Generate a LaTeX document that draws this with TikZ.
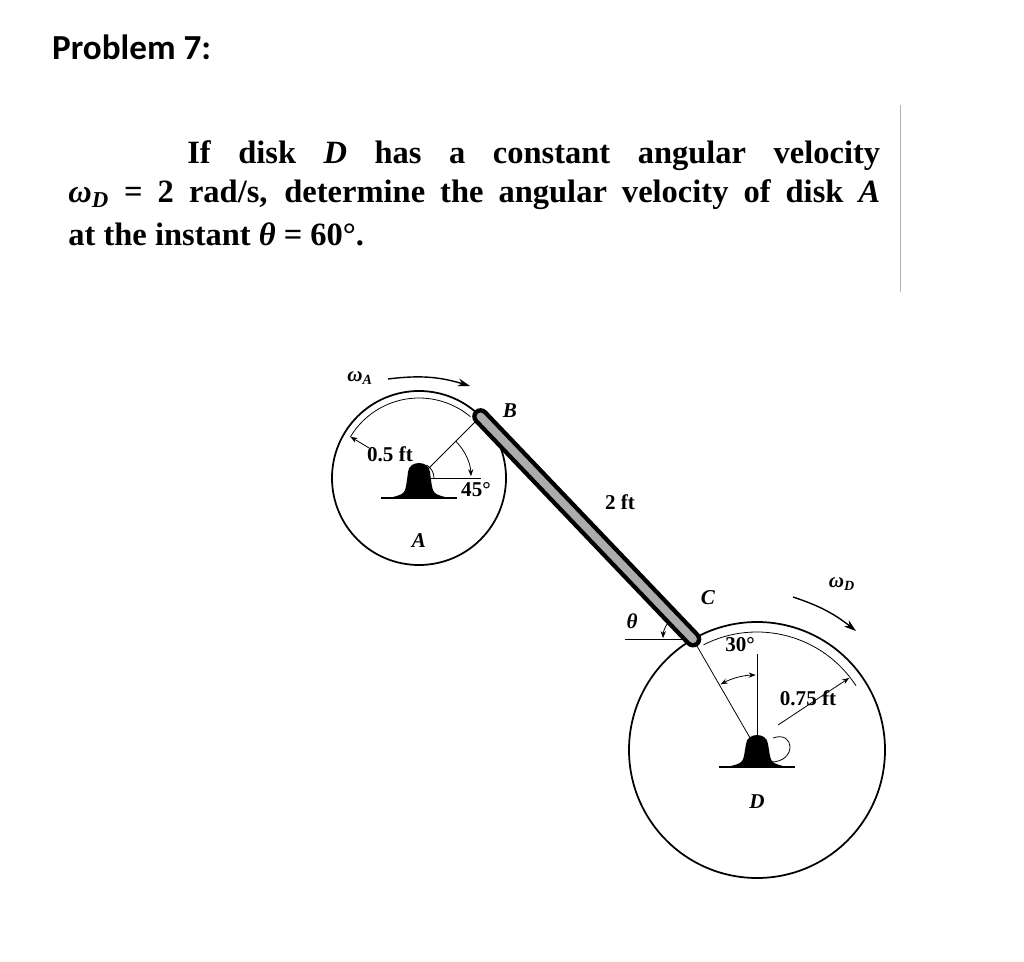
\documentclass[tikz,border=0pt]{standalone}
\usepackage{fontspec}
\setmainfont{Liberation Serif}
\newfontfamily\titlefont{Carlito}
\usetikzlibrary{arrows.meta,calc}
\begin{document}
\begin{tikzpicture}[x=0.02cm,y=0.02cm,
  lbl/.style={font=\fontsize{12}{14}\selectfont\bfseries, inner sep=1pt},
  thinl/.style={line width=0.45pt},
  disk/.style={line width=1pt},
  arr/.style={-{Stealth[length=7pt,width=4.5pt]}, line width=0.8pt},
  sarr/.style={-{Stealth[length=4pt,width=3pt]}, line width=0.45pt},
  body/.style={anchor=west, inner sep=0, font=\fontsize{18.5}{22}\selectfont\bfseries}]
\useasboundingbox (0,0) rectangle (1024,961);
\node[anchor=west, font=\titlefont\fontsize{20}{24}\selectfont\bfseries] (title) at (46,914) {Problem 7:};
\node[body] (l1) at (187,805) {\makebox[13.86cm][s]{If disk \textit{D} has a constant angular velocity}};
\node[body] (l2) at (68,766) {\makebox[16.24cm][s]{\textit{ω\textsubscript{D}} = 2 rad/s, determine the angular velocity of disk \textit{A}}};
\node[body] (l3) at (68,727) {at the instant \textit{θ} = 60°.};
\coordinate (r1) at (900,856); \coordinate (r2) at (900,669);
\draw[line width=0.3pt, gray!60] (r1) -- (r2);
% ---------- disk A
\coordinate (A) at (419,483);
\coordinate (B) at ($(A)+(45:87)$);
\draw[disk] (A) circle[radius=87];
\draw[thinl] (A) -- (B);
\coordinate (Ah) at ($(A)+(62,0)$);
\draw[thinl] (A) -- (Ah);
\draw[thinl] ($(A)+(149:80)$) arc[start angle=149, end angle=50, radius=80];
\draw[sarr] ($(A)+(149:58)$) -- ($(A)+(149:80)$);
\draw[sarr] ($(A)+(45:52)$) arc[start angle=45, end angle=2, radius=52];
% pedestal A
\fill ($(A)+(-30,-20)$) .. controls ($(A)+(-14,-16)$) .. ($(A)+(-12,-2)$) -- ($(A)+(-11,6)$)
   .. controls ($(A)+(-10,18)$) and ($(A)+(10,18)$) .. ($(A)+(11,6)$) -- ($(A)+(12,-2)$)
   .. controls ($(A)+(14,-16)$) .. ($(A)+(30,-20)$) -- cycle;
\draw[line width=0.8pt] ($(A)+(-38,-20)$) -- ($(A)+(38,-20)$);
\draw[thinl] ($(A)+(15,0)$) arc[start angle=0, end angle=60, radius=15];
% ---------- disk D
\coordinate (D) at (757,211);
\coordinate (C) at ($(D)+(120:128)$);
\draw[disk] (D) circle[radius=128];
\draw[thinl] (D) -- (C);
\coordinate (Dv) at ($(D)+(0,96)$);
\draw[thinl] (D) -- (Dv);
\draw[thinl] ($(D)+(117:118)$) arc[start angle=117, end angle=33, radius=118];
\draw[{Stealth[length=4pt,width=3pt]}-{Stealth[length=4pt,width=3pt]}, line width=0.45pt]
   ($(D)+(119:75)$) arc[start angle=119, end angle=91, radius=75];
\coordinate (lead) at (778,236);
\draw[sarr] (lead) -- ($(D)+(38:117)$);
\fill ($(D)+(-30,-17)$) .. controls ($(D)+(-14,-13)$) .. ($(D)+(-12,0)$) -- ($(D)+(-11,6)$)
   .. controls ($(D)+(-10,18)$) and ($(D)+(10,18)$) .. ($(D)+(11,6)$) -- ($(D)+(12,0)$)
   .. controls ($(D)+(14,-13)$) .. ($(D)+(30,-17)$) -- cycle;
\draw[line width=0.8pt] ($(D)+(-38,-17)$) -- ($(D)+(38,-17)$);
\draw[thinl] ($(D)+(16,12)$) .. controls ($(D)+(38,20)$) and ($(D)+(40,-12)$) .. ($(D)+(14,-12)$);
% theta
\coordinate (Ch) at ($(C)+(-68,0)$);
\draw[thinl] (C) -- (Ch);
\draw[sarr] ($(C)+(137:30)$) arc[start angle=137, end angle=178, radius=30];
% ---------- rod
\draw[line width=9.5pt, line cap=round] (B) -- (C);
\draw[line width=4.5pt, line cap=round, gray!65] (B) -- (C);
% ---------- omega arrows
\draw[arr] (388,582) to[bend left=12] (470,575);
\draw[arr] (793,364) to[bend left=10] (856,330);
% ---------- labels
\node[lbl] (wA) at (360,583) {\textit{ω\textsubscript{A}}};
\node[lbl] (lB) at (510,550) {\textit{B}};
\node[lbl] (l05) at (390,507) {0.5 ft};
\node[lbl] (l45) at (476,471) {45°};
\node[lbl] (lA) at (419,420) {\textit{A}};
\node[lbl] (l2ft) at (620,459) {2 ft};
\node[lbl] (lC) at (708,363) {\textit{C}};
\node[lbl] (lth) at (632,340) {\textit{θ}};
\node[lbl] (l30) at (740,316) {30°};
\node[lbl] (l075) at (808,263) {0.75 ft};
\node[lbl] (lD) at (757,159) {\textit{D}};
\node[lbl] (wD) at (842,377) {\textit{ω\textsubscript{D}}};
\end{tikzpicture}
\end{document}
